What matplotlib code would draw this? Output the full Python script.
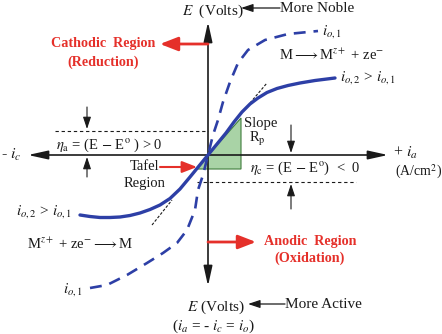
import matplotlib

matplotlib.use("Agg")
import matplotlib.pyplot as plt
from matplotlib.patches import Polygon

# schematic curves, traced in picture pixels (x right, y down)
solid_x = [80, 90, 100, 110, 120, 130, 140, 150, 160, 170, 180, 190, 199, 208,
           217, 226, 234, 242, 250, 258, 267, 277, 288, 300, 315, 335]
solid_y = [215, 216.5, 217.5, 217.5, 217, 215.5, 213, 209.5, 205, 198.5, 189, 177, 166, 155,
           144, 133, 122, 112, 104, 98, 92.5, 88.5, 85.5, 83, 80.5, 78]
dash_x = [90, 107, 127, 147, 163, 177, 187, 195, 198, 203, 208, 213, 218, 223, 230, 238, 248, 265, 288, 318]
dash_y = [288, 285, 275, 263, 253, 243, 230, 210, 190, 175, 155, 135, 120, 102, 82, 63, 50, 40, 34, 31]
tafel_hi = ([250, 267], [103, 83])
tafel_lo = ([152, 172], [225, 200])
rp_tri_x = [196, 241, 241]
rp_tri_y = [169, 118, 169]

BLUE = "#2d3fa6"
RED = "#e5302a"
INK = "#1a1a1a"

plt.rcParams["font.family"] = ["Liberation Serif", "DejaVu Serif"]
plt.rcParams["mathtext.fontset"] = "stix"

fig = plt.figure(figsize=(4.42, 3.34), dpi=100)
ax = fig.add_axes([0, 0, 1, 1])
ax.set_xlim(0, 442)
ax.set_ylim(334, 0)
ax.axis("off")


def arrow(x0, y0, x1, y1, color=INK, lw=1.0, style="-|>,head_length=0.6,head_width=0.2", ms=12):
    ax.annotate("", xy=(x1, y1), xytext=(x0, y0),
                arrowprops=dict(arrowstyle=style, color=color, lw=lw,
                                mutation_scale=ms, shrinkA=0, shrinkB=0))


def txt(x, y, s, size=10, **kw):
    kw.setdefault("color", INK)
    ax.text(x, y, s, fontsize=size, va="center", **kw)


# green Rp triangle
ax.add_patch(Polygon(list(zip(rp_tri_x, rp_tri_y)), closed=True,
                     facecolor="#a9d3a6", edgecolor="#3f7d3c", lw=0.8, zorder=1))

# main axes
ax_style = "-|>,head_length=1.0,head_width=0.22"
arrow(208, 155, 208, 22, lw=1.2, style=ax_style)
arrow(208, 155, 208, 286, lw=1.2, style=ax_style)
arrow(208, 155, 388, 155, lw=1.2, style=ax_style)
arrow(208, 155, 28, 155, lw=1.2, style=ax_style)

# overpotential guide lines
ax.plot([55, 208], [131, 131], color=INK, lw=0.8, ls=(0, (3, 2.5)))
ax.plot([197, 356], [182, 182], color=INK, lw=0.8, ls=(0, (3, 2.5)))
arrow(87, 107, 87, 129, lw=0.8)
arrow(87, 177, 87, 157, lw=0.8)
arrow(291, 125, 291, 153, lw=0.8)
arrow(291, 209, 291, 184, lw=0.8)

# Tafel tangents
ax.plot(*tafel_hi, color=INK, lw=0.8, ls=(0, (2.5, 1.5)))
ax.plot(*tafel_lo, color=INK, lw=0.8, ls=(0, (2.5, 1.5)))

# polarization curves
ax.plot(dash_x, dash_y, color=BLUE, lw=1.9, ls=(0, (4.5, 3)), zorder=3)
ax.plot(solid_x, solid_y, color=BLUE, lw=2.4, solid_capstyle="round",
        solid_joinstyle="round", zorder=3)

# red region arrows
red_style = "-|>,head_length=0.9,head_width=0.35"
arrow(208, 44, 160, 44, color=RED, lw=2.0, style=red_style)
arrow(208, 242, 256, 242, color=RED, lw=2.0, style=red_style)
arrow(160, 167, 197, 167, color=RED, lw=1.5, style=red_style, ms=10)

txt(103, 44, "Cathodic  Region", size=10.2, color=RED, weight="bold", ha="center")
txt(103, 62, "(Reduction)", size=10.2, color=RED, weight="bold", ha="center")
txt(310, 242, "Anodic  Region", size=10.2, color=RED, weight="bold", ha="center")
txt(310, 258, "(Oxidation)", size=10.2, color=RED, weight="bold", ha="center")

# axis labels
txt(182, 11, r"$E$  (Volts)", size=11)
arrow(280, 8, 241, 8, lw=0.9)
txt(280, 8, "More Noble", size=11)
txt(187, 307, r"$E$ (Volts)", size=11)
arrow(285, 304, 248, 304, lw=0.9)
txt(285, 304, "More Active", size=11)
txt(214, 326, r"($i_a$ = - $i_c$ = $i_o$)", size=11, ha="center")
txt(1, 155, r"- $i_c$", size=11.5)
txt(393, 153, r"+ $i_a$", size=11.5)
txt(395, 172, r"(A/cm$^2$)", size=10)

# annotations
txt(322, 32, r"$i_{o,1}$", size=11)
txt(279, 55, r"M$\longrightarrow$M$^{z+}$ + ze$^{-}$", size=10.5)
txt(340, 78, r"$i_{o,2}$ > $i_{o,1}$", size=11)
txt(16, 212, r"$i_{o,2}$ > $i_{o,1}$", size=11)
txt(27, 244, r"M$^{z+}$ + ze$^{-}$$\longrightarrow$M", size=10.5)
txt(63, 290, r"$i_{o,1}$", size=11)
txt(56, 145, r"$\eta_{\rm a}$ = (E $-$ E$^{\rm o}$ ) > 0", size=10.5)
txt(250, 168, r"$\eta_{\rm c}$ = (E $-$ E$^{\rm o}$)  <  0", size=10.5)
txt(244, 123, "Slope", size=10.5)
txt(257, 139, r"R$_{\rm p}$", size=10.5, ha="center")
txt(145, 167, "Tafel", size=10.5, ha="center")
txt(145, 184, "Region", size=10.5, ha="center")

fig.savefig("out.png", dpi=100)
